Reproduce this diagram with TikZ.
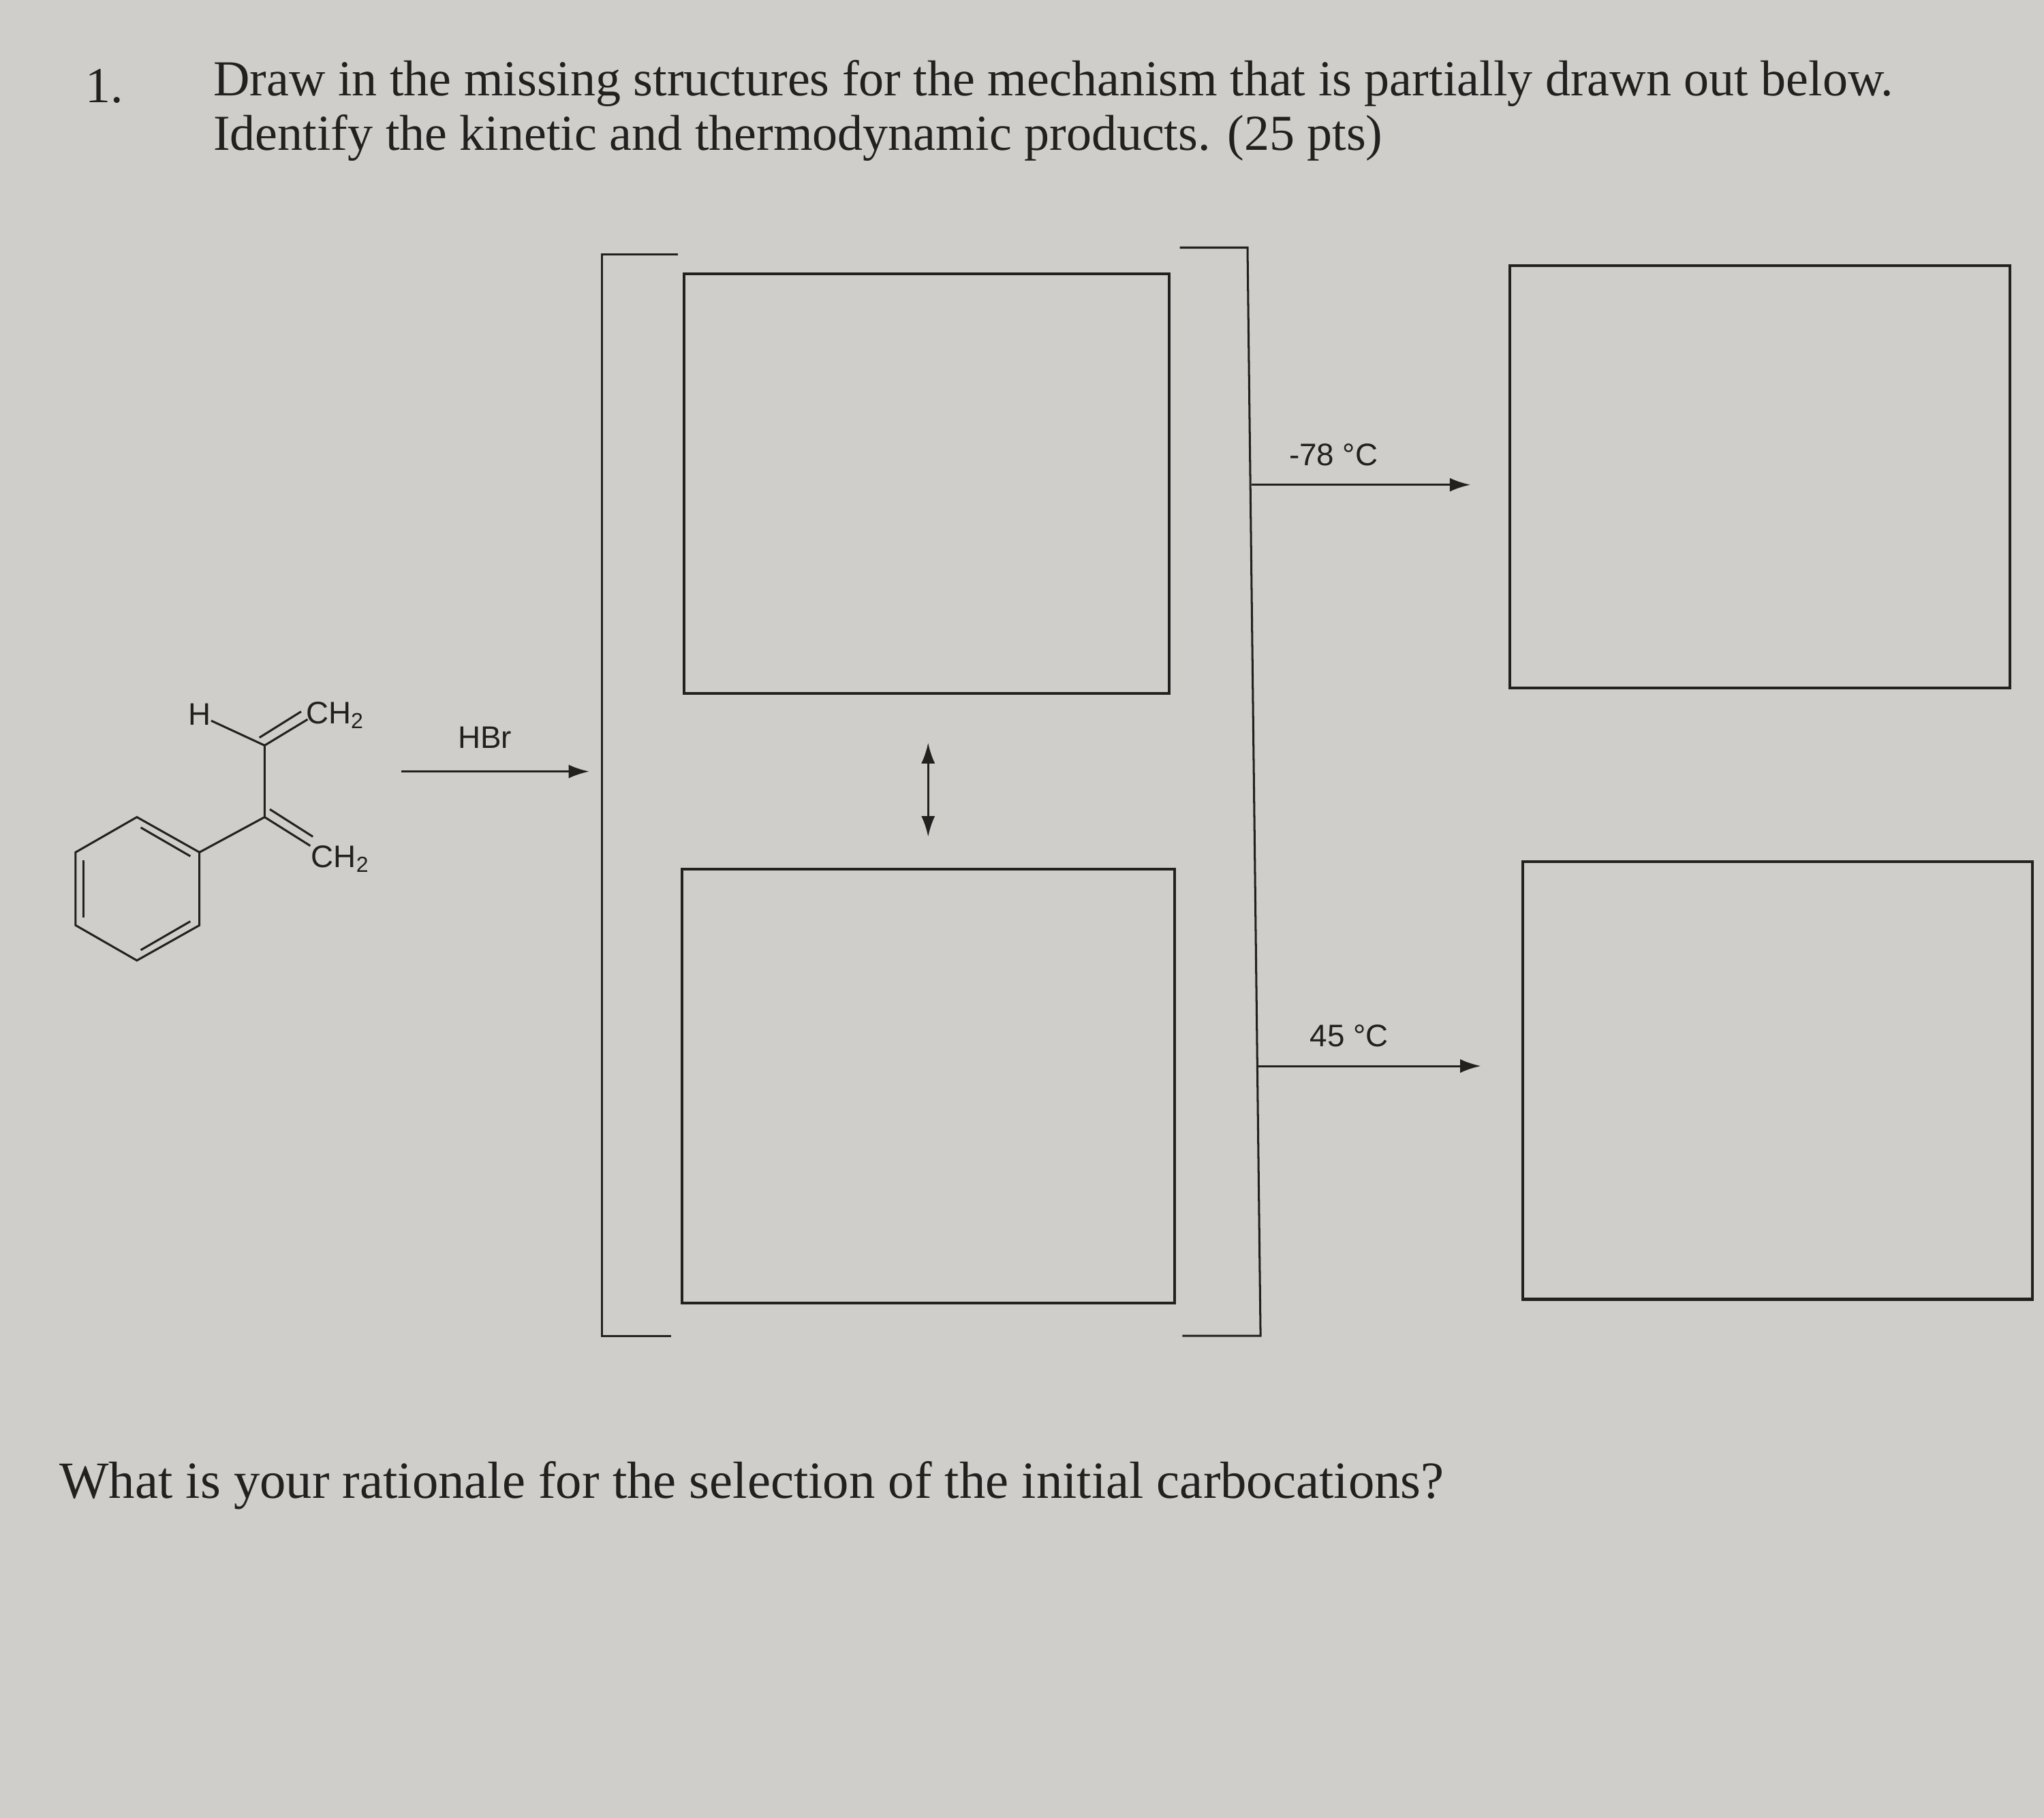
\documentclass[tikz,border=0pt]{standalone}
\usepackage{fontspec}
\setmainfont{Liberation Serif}
\setsansfont{Liberation Sans}
\usetikzlibrary{arrows.meta}
\definecolor{paper}{RGB}{208,206,202}
\definecolor{ink}{RGB}{35,33,32}
\begin{document}
\begin{tikzpicture}[x=0.01cm,y=-0.01cm,
  line/.style={draw=ink,line width=0.45pt},
  bx/.style={draw=ink,line width=0.6pt},
  arr/.style={draw=ink,line width=0.45pt,-{Latex[length=4.5pt,width=3pt]}},
  ttl/.style={font=\fontsize{11}{13}\selectfont,text=ink,anchor=west,inner sep=0},
  lab/.style={font=\sffamily\fontsize{6.8}{7.5}\selectfont,text=ink,inner sep=0}]
\fill[paper] (0,0) rectangle (1568,1395);
\useasboundingbox (0,0) rectangle (1568,1395);
\node[ttl] (n1) at (65,66) {1.};
\node[ttl] (t1) at (163,64) {Draw in the missing structures for the mechanism that is partially drawn out below.};
\node[ttl] (t2) at (163,106) {Identify the kinetic and thermodynamic products. (25 pts)};
\node[ttl,font=\fontsize{11.4}{13}\selectfont] (q) at (45,1140) {What is your rationale for the selection of the initial carbocations?};
% brackets
\draw[line] (520,195) -- (462,195) -- (462,1025) -- (515,1025);
\draw[line] (905,190) -- (957,190) -- (967,1025) -- (907,1025);
% boxes
\draw[bx] (525,210) rectangle (897,532);
\draw[bx] (523,667) rectangle (901,1000);
\draw[bx] (1158,204) rectangle (1542,528);
\draw[bx] (1168,661) rectangle (1559,997);
% arrows
\coordinate (a1) at (308,592); \coordinate (a2) at (452,592);
\draw[arr] (a1) -- (a2);
\node[lab] (hbr) at (372,566) {HBr};
\coordinate (r1) at (712,570); \coordinate (r2) at (712,642);
\draw[line,{Latex[length=4.5pt,width=3pt]}-{Latex[length=4.5pt,width=3pt]}] (r1) -- (r2);
\coordinate (k1) at (960,372); \coordinate (k2) at (1128,372);
\draw[arr] (k1) -- (k2);
\node[lab] (kl) at (1023,349) {-78 °C};
\coordinate (h1) at (965,818); \coordinate (h2) at (1136,818);
\draw[arr] (h1) -- (h2);
\node[lab] (hl) at (1035,795) {45 °C};
% molecule
\coordinate (v1) at (105,627); \coordinate (v2) at (153,654); \coordinate (v3) at (153,710);
\coordinate (v4) at (105,737); \coordinate (v5) at (58,710); \coordinate (v6) at (58,654);
\draw[line] (v1)--(v2)--(v3)--(v4)--(v5)--(v6)--cycle;
\draw[line] (64,660) -- (64,704);
\draw[line] (108,635) -- (146,657);
\draw[line] (146,707) -- (108,729);
\coordinate (c2) at (203,627); \coordinate (c1) at (203,572);
\draw[line] (v2) -- (c2) -- (c1);
\node[lab] (H) at (153,548) {H};
\draw[line] (162,553) -- (c1);
\node[lab,anchor=west] (ch2a) at (234,549) {CH\textsubscript{2}};
\draw[line] (c1) -- (236,552);
\draw[line] (199,566) -- (231,546);
\node[lab,anchor=west] (ch2b) at (238,659) {CH\textsubscript{2}};
\draw[line] (c2) -- (238,649);
\draw[line] (207,621) -- (240,642);
\end{tikzpicture}
\end{document}
